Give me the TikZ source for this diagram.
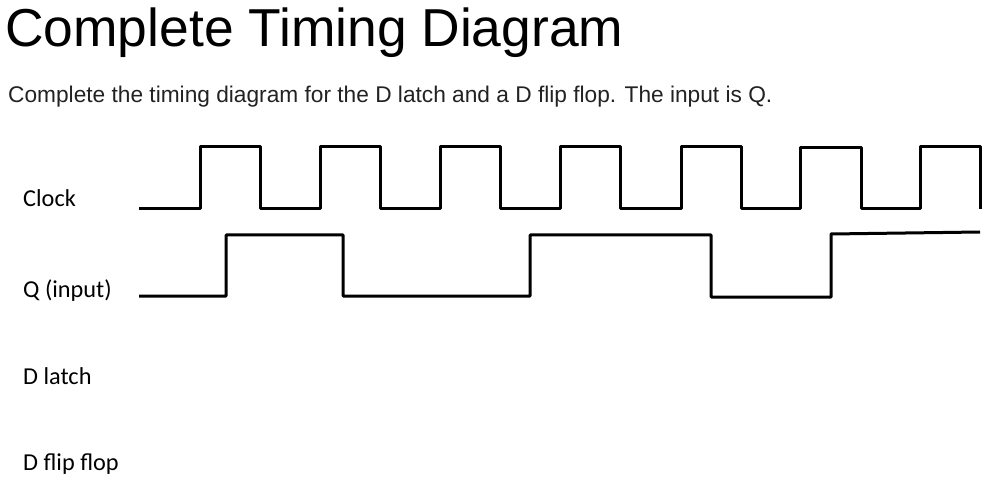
\documentclass[tikz,border=0pt]{standalone}
\usepackage{fontspec}
\setmainfont{Liberation Sans}
\newfontfamily\lblfont{Carlito}
\definecolor{subgray}{HTML}{222222}
\begin{document}
\begin{tikzpicture}[x=1pt,y=-1pt,
  wave/.style={line width=3pt, line join=round, line cap=butt},
  txt/.style={anchor=base west, inner sep=0pt},
  lbl/.style={txt, font=\lblfont\fontsize{24.3}{28}\selectfont}]
\useasboundingbox (0,0) rectangle (989,484);
\node[txt, font=\fontsize{53.4}{60}\selectfont] (title) at (5,47) {Complete Timing Diagram};
\node[txt, text=subgray, font=\fontsize{22.7}{26}\selectfont] (sub) at (8,103) {Complete the timing diagram for the D latch and a D flip flop. The input is Q.};
\node[lbl] (clk) at (23,207) {Clock};
\node[lbl] (q) at (23,297) {Q (input)};
\node[lbl] (dl) at (23,384) {D latch};
\node[lbl] (dff) at (23,470) {D flip flop};
\draw[wave] (139,209) -- (200,209) -- (200,147) -- (260,147) -- (260,209)
  -- (320,209) -- (320,147) -- (380,147) -- (380,209)
  -- (440,209) -- (440,147) -- (500,147) -- (500,209)
  -- (560,209) -- (560,147) -- (620,147) -- (620,209)
  -- (681,209) -- (681,147) -- (741,147) -- (741,209)
  -- (800,209) -- (800,148) -- (861,148) -- (861,209)
  -- (920,209) -- (920,147) -- (980,147) -- (980,209);
\draw[wave] (139,296) -- (226,296) -- (226,235) -- (343,235) -- (343,296)
  -- (530,296) -- (530,235) -- (711,235) -- (711,297) -- (831,297)
  -- (831,234) -- (980,232);
\end{tikzpicture}
\end{document}
